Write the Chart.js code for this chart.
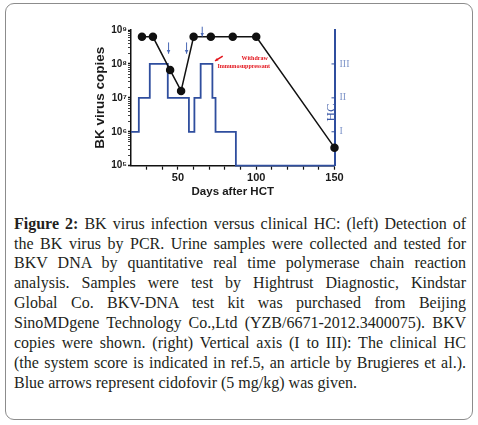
<!DOCTYPE html>
<html>
<head>
<meta charset="utf-8">
<script src="https://cdn.jsdelivr.net/npm/chart.js@4.4.1/dist/chart.umd.min.js"></script>
<style>
  html, body { margin: 0; padding: 0; background: #fff; }
  body { width: 478px; height: 425px; position: relative; overflow: hidden; }
  .frame { position: absolute; left: 5px; top: 3px; width: 466px; height: 415px;
           border: 1.5px solid #8c8c8c; border-radius: 9px; }
  .plot { position: absolute; left: 0; top: 0; width: 478px; height: 205px; }
  .caption { position: absolute; left: 14px; top: 213.6px; width: 452px;
             font-family: "Liberation Serif", "Times New Roman", serif; font-size: 16px;
             line-height: 19.9px; color: #231f20; }
  .caption div { white-space: nowrap; text-align: justify; text-align-last: justify; }
  .caption div.last { text-align-last: left; }
  .caption b { font-weight: bold; }
</style>
</head>
<body>
<div class="frame"></div>
<div class="plot"><canvas id="bkChart"></canvas></div>
<div class="caption">
  <div><b>Figure 2:</b> BK virus infection versus clinical HC: (left) Detection of</div>
  <div>the BK virus by PCR. Urine samples were collected and tested for</div>
  <div>BKV DNA by quantitative real time polymerase chain reaction</div>
  <div>analysis. Samples were test by Hightrust Diagnostic, Kindstar</div>
  <div>Global Co. BKV-DNA test kit was purchased from Beijing</div>
  <div>SinoMDgene Technology Co.,Ltd (YZB/6671-2012.3400075). BKV</div>
  <div>copies were shown. (right) Vertical axis (I to III): The clinical HC</div>
  <div>(the system score is indicated in ref.5, an article by Brugieres et al.).</div>
  <div class="last">Blue arrows represent cidofovir (5 mg/kg) was given.</div>
</div>
<script>
/* ── DATA ── */
// BK virus copies (black line)
const bkDays   = [27, 34, 45, 52, 60, 71, 85, 100, 150];
const bkCopies = [6.3e8, 6.3e8, 6.6e7, 1.6e7, 6.3e8, 6.3e8, 6.3e8, 6.3e8, 3.4e5];

// clinical HC grade (blue step line), 0 = none, 1..3 = I..III
const hcDays  = [20, 25, 32, 43.5, 57, 60.5, 64.5, 72, 74, 87, 150];
const hcGrade = [1, 2, 3, 2, 1, 2, 3, 2, 1, 0, 0];

// cidofovir arrows (blue)
const cidoDays   = [44, 55.5, 65.5];
const cidoTop    = [4.3e8, 4.3e8, 1.25e9];
const cidoBottom = [2.0e8, 2.0e8, 6.4e8];

// withdraw immunosuppressant note (red)
const noteArrowDays   = [78.6, 73.7];
const noteArrowCopies = [1.7e8, 1.23e8];
const noteLines  = ['Withdraw', 'Immunosuppressant'];
const noteDays   = [99, 92];
const noteCopies = [1.46e8, 8.7e7];

// axes
const xTicks      = [30, 40, 50, 60, 70, 80, 90, 100, 110, 120, 130, 140, 150];
const xLabelled   = [50, 100, 150];
const yDecades    = [1e5, 1e6, 1e7, 1e8, 1e9];
const yDecadeLbl  = ['10⁵', '10⁶', '10⁷', '10⁸', '10⁹'];
const hcTicks     = [1, 2, 3];
const hcTickLbl   = ['I', 'II', 'III'];
const hcTitlePos  = 1.57;

const BLUE = '#2f4e9e';
const BLUE_LIGHT = '#7f95c9';
const RED = '#e3141c';

/* ── OVERLAY: arrows, notes, HC title ── */
function arrow(ctx, x0, y0, x1, y1, head) {
  const a = Math.atan2(y1 - y0, x1 - x0);
  ctx.beginPath(); ctx.moveTo(x0, y0); ctx.lineTo(x1, y1); ctx.stroke();
  ctx.beginPath();
  ctx.moveTo(x1, y1);
  ctx.lineTo(x1 - head * Math.cos(a - 0.45), y1 - head * Math.sin(a - 0.45));
  ctx.lineTo(x1 - head * Math.cos(a + 0.45), y1 - head * Math.sin(a + 0.45));
  ctx.closePath(); ctx.fill();
}

const overlay = {
  id: 'overlay',
  afterDatasetsDraw(chart) {
    const { ctx, scales: { x, y, y2 } } = chart;
    ctx.save();

    // cidofovir arrows
    ctx.strokeStyle = ctx.fillStyle = '#4a69b6';
    ctx.lineWidth = 1;
    cidoDays.forEach((d, i) => {
      const px = x.getPixelForValue(d);
      arrow(ctx, px, y.getPixelForValue(cidoTop[i]), px, y.getPixelForValue(cidoBottom[i]), 4);
    });

    // red arrow + note
    ctx.strokeStyle = ctx.fillStyle = RED;
    ctx.lineWidth = 1.6;
    arrow(ctx,
      x.getPixelForValue(noteArrowDays[0]), y.getPixelForValue(noteArrowCopies[0]),
      x.getPixelForValue(noteArrowDays[1]), y.getPixelForValue(noteArrowCopies[1]), 3.5);
    ctx.font = 'bold 6px "Liberation Serif", serif';
    ctx.textAlign = 'center'; ctx.textBaseline = 'middle';
    noteLines.forEach((t, i) => {
      ctx.fillText(t, x.getPixelForValue(noteDays[i]), y.getPixelForValue(noteCopies[i]));
    });

    // inner ticks on HC axis
    ctx.strokeStyle = BLUE; ctx.lineWidth = 1;
    hcTicks.forEach(v => {
      const py = y2.getPixelForValue(v);
      ctx.beginPath(); ctx.moveTo(y2.left - 3, py); ctx.lineTo(y2.left, py); ctx.stroke();
    });

    // HC title, left of the axis
    ctx.fillStyle = '#3b58a6';
    ctx.font = '13px "Liberation Serif", serif';
    ctx.translate(y2.left + 0.5, y2.getPixelForValue(hcTitlePos));
    ctx.rotate(-Math.PI / 2);
    ctx.textAlign = 'center'; ctx.textBaseline = 'alphabetic';
    ctx.fillText('HC', 0, 0);
    ctx.restore();
  }
};

/* ── CHART ── */
const axisFont = { family: 'Arial, "Liberation Sans", sans-serif', weight: 'bold' };

new Chart(document.getElementById('bkChart').getContext('2d'), {
  type: 'line',
  data: {
    datasets: [
      {
        label: 'BK virus copies',
        data: bkDays.map((d, i) => ({ x: d, y: bkCopies[i] })),
        xAxisID: 'x', yAxisID: 'y',
        borderColor: '#111', backgroundColor: '#111',
        borderWidth: 1.5, pointRadius: 3.5, pointBackgroundColor: '#111',
        tension: 0, clip: false
      },
      {
        label: 'HC',
        data: hcDays.map((d, i) => ({ x: d, y: hcGrade[i] })),
        xAxisID: 'x', yAxisID: 'y2',
        borderColor: BLUE, borderWidth: 1.8, pointRadius: 0,
        stepped: 'before', clip: false
      }
    ]
  },
  options: {
    responsive: true, maintainAspectRatio: false, animation: false,
    layout: { padding: { left: 88, right: 123.5, top: 30, bottom: 2 } },
    plugins: { legend: { display: false }, tooltip: { enabled: false } },
    scales: {
      x: {
        type: 'linear', position: 'bottom', min: 20, max: 150,
        afterBuildTicks: s => { s.ticks = xTicks.map(v => ({ value: v })); },
        afterFit: s => { s.height = 37.3; },
        grid: { drawOnChartArea: false, tickLength: 4, tickColor: '#111', tickWidth: 1.2 },
        border: { color: '#111', width: 1.5 },
        ticks: {
          autoSkip: false, maxRotation: 0, padding: 2, color: '#1a1a1a',
          font: { ...axisFont, size: 11 },
          callback: v => xLabelled.includes(v) ? String(v) : ''
        },
        title: { display: true, text: 'Days after HCT', color: '#1a1a1a',
                 font: { ...axisFont, size: 11.5 }, padding: { top: 4, bottom: 4 } }
      },
      y: {
        type: 'logarithmic', position: 'left', min: 1e5, max: 1e9,
        afterBuildTicks: s => {
          const t = [];
          yDecades.forEach((d, i) => {
            if (i === yDecades.length - 1) { t.push({ value: d }); return; }
            for (let m = 1; m < 10; m++) t.push({ value: m * d });
          });
          s.ticks = t;
        },
        afterFit: s => { s.width = 43; },
        grid: {
          drawOnChartArea: false, tickColor: '#111', tickLength: 3,
          tickWidth: c => yDecades.includes(c.tick && c.tick.value) ? 1.3 : 0.8
        },
        border: { color: '#111', width: 1.5 },
        ticks: {
          autoSkip: false, padding: 1, color: '#1a1a1a',
          font: { ...axisFont, size: 10 },
          callback: v => { const k = yDecades.indexOf(v); return k >= 0 ? yDecadeLbl[k] : ''; }
        },
        title: { display: true, text: 'BK virus copies', color: '#1a1a1a',
                 font: { ...axisFont, size: 13.5 }, padding: { top: 4, bottom: 4 } }
      },
      y2: {
        type: 'linear', position: 'right', min: 0, max: 4,
        afterBuildTicks: s => { s.ticks = hcTicks.map(v => ({ value: v })); },
        afterFit: s => { s.width = 20; },
        grid: { display: true, drawOnChartArea: false, drawTicks: false },
        border: { color: BLUE, width: 2 },
        ticks: {
          padding: 5, color: BLUE_LIGHT,
          font: { family: '"Liberation Serif", serif', size: 10 },
          callback: v => { const k = hcTicks.indexOf(v); return k >= 0 ? hcTickLbl[k] : ''; }
        }
      }
    }
  },
  plugins: [overlay]
});
</script>
</body>
</html>
